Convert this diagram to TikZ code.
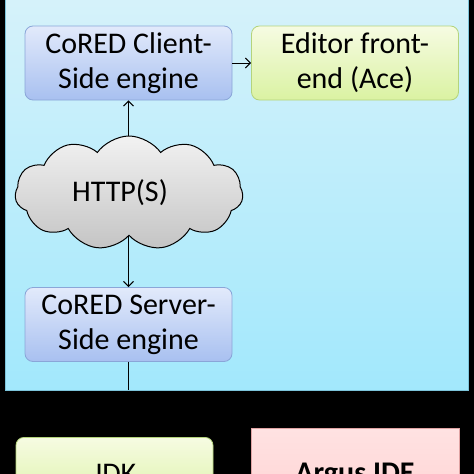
\documentclass[tikz,border=0pt]{standalone}
\usepackage{fontspec}
\setmainfont{Carlito}
\usetikzlibrary{shapes.symbols,arrows.meta}
\definecolor{panelTop}{HTML}{D6F2FA}
\definecolor{panelBot}{HTML}{A2E8FC}
\definecolor{panelEdge}{HTML}{7CC4DA}
\definecolor{blueTop}{HTML}{E2EAFB}
\definecolor{blueBot}{HTML}{A8C0F0}
\definecolor{blueEdge}{HTML}{8AA6D8}
\definecolor{greenTop}{HTML}{F6FBE2}
\definecolor{greenBot}{HTML}{DAF2A2}
\definecolor{greenEdge}{HTML}{B4D47C}
\definecolor{cloudTop}{HTML}{F2F2F2}
\definecolor{cloudBot}{HTML}{C4C4C4}
\definecolor{pinkTop}{HTML}{FFE2E2}
\definecolor{pinkBot}{HTML}{FFD2D2}
\definecolor{pinkEdge}{HTML}{E0A4A4}
\begin{document}
\begin{tikzpicture}[x=1pt,y=-1pt,
  boxfont/.style={font=\fontsize{30}{35}\selectfont},
  bluebox/.style={boxfont, draw=blueEdge, line width=0.8pt, rounded corners=8pt, top color=blueTop, bottom color=blueBot,
    minimum width=207pt, minimum height=74pt, inner sep=0pt, align=center},
  greenbox/.style={boxfont, draw=greenEdge, line width=0.8pt, rounded corners=8pt, top color=greenTop, bottom color=greenBot,
    minimum width=207pt, minimum height=74pt, inner sep=0pt, align=center},
  arr/.style={-{Straight Barb[length=5pt,width=10pt,line width=1pt]}, line width=1pt, black},
]
\useasboundingbox (0,0) rectangle (474,474);
\clip (0,0) rectangle (474,474);
\fill[black] (0,0) rectangle (474,474);
\shade[top color=panelTop, bottom color=panelBot, draw=panelEdge, line width=0.8pt] (5,-5) rectangle (468,390);

\node[bluebox] (client) at (128.5,63) {CoRED Client-\\Side engine};
\node[greenbox] (editor) at (355,63) {Editor front-\\end (Ace)};
\node[cloud, cloud puffs=11, cloud puff arc=110, aspect=2, draw=black, line width=1pt,
  top color=cloudTop, bottom color=cloudBot, boxfont, inner sep=0pt,
  minimum width=228pt, minimum height=114pt] (cloud) at (129,193) {HTTP(S)\hspace*{18pt}};
\node[bluebox] (server) at (128.5,324.5) {CoRED Server-\\Side engine};
\coordinate (panelbot) at (128.5,390);

\node[greenbox, anchor=north, text height=19pt, text depth=0pt, minimum width=197pt] (jdk) at (114.5,437) {JDK};
\node[anchor=north, draw=pinkEdge, line width=0.8pt, top color=pinkTop, bottom color=pinkBot,
  minimum width=208pt, minimum height=90pt, inner sep=0pt, text height=19pt, text depth=0pt, font=\fontsize{30}{35}\selectfont\bfseries] (argus) at (355,428) {Argus IDE};

\draw[arr] (client.south |- cloud.north) -- (client.south);
\draw[arr] (client.east) -- (editor.west);
\draw[arr] (server.north |- cloud.south) -- (server.north);
\draw[line width=1pt] (server.south) -- (panelbot);
\end{tikzpicture}
\end{document}
